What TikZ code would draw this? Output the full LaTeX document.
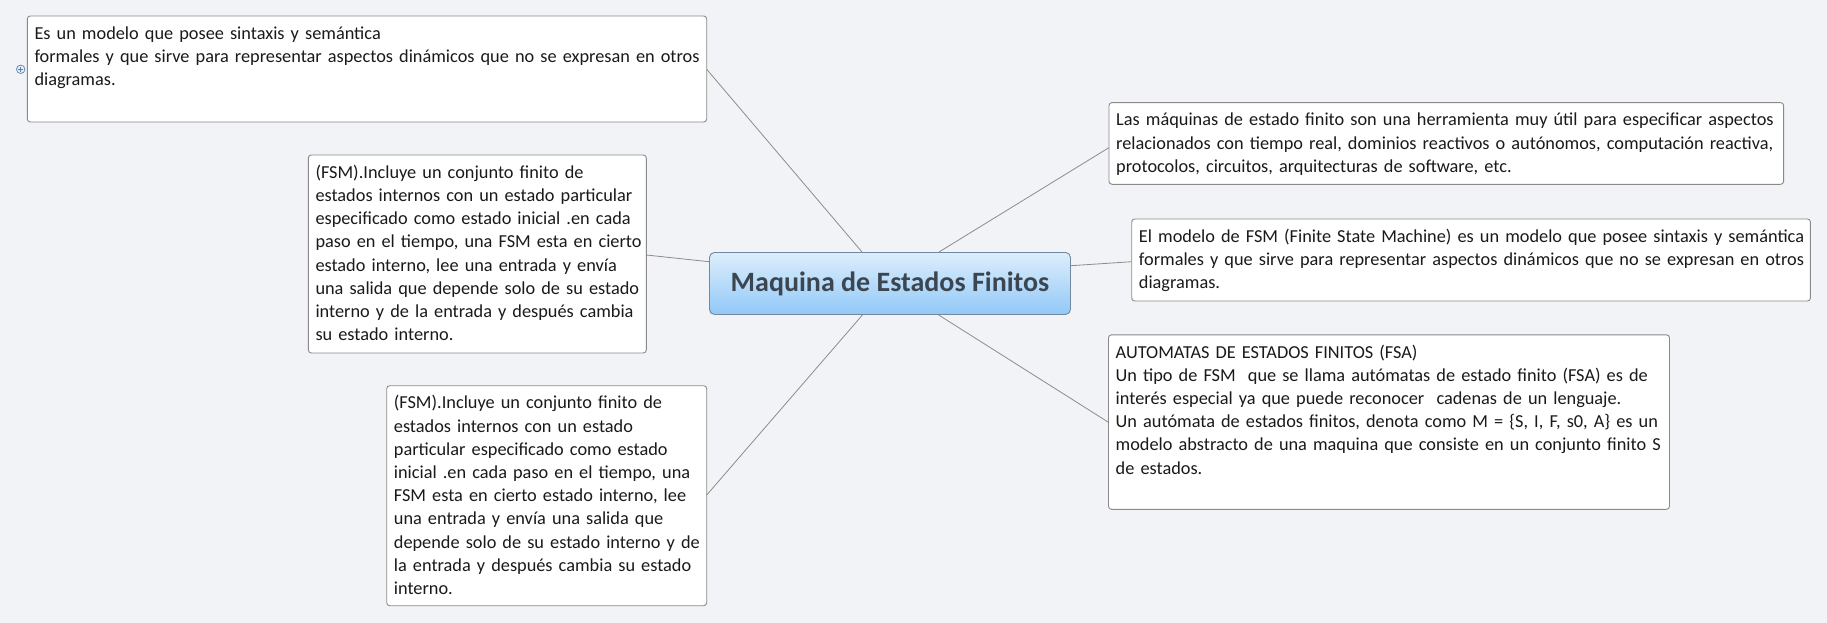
\documentclass[tikz,border=0pt]{standalone}
\usepackage{fontspec}
\setmainfont{Carlito}
\definecolor{bg}{HTML}{F2F3F7}
\definecolor{boxborder}{HTML}{8A8A8A}
\definecolor{linkc}{HTML}{8C8C8C}
\definecolor{txtc}{HTML}{1A1A1A}
\definecolor{titlec}{HTML}{3C4651}
\definecolor{ctop}{HTML}{DDEEFC}
\definecolor{cbot}{HTML}{92C8F8}
\definecolor{cborder}{HTML}{7088A0}
\definecolor{iconc}{HTML}{5F81A6}
\definecolor{iconfill}{HTML}{E4EEF8}
\begin{document}
\begin{tikzpicture}[x=1pt,y=-1pt,
  topicbox/.style={draw=boxborder,line width=0.9pt,fill=white,rounded corners=3pt,
    inner sep=0pt,outer sep=0pt,anchor=north west},
  topictext/.style={anchor=north west,inner sep=0pt,align=left,text=txtc,
    font=\fontsize{18.3}{23.2}\selectfont},
  link/.style={draw=linkc,line width=0.8pt}]
\useasboundingbox[fill=bg] (0,0) rectangle (1827,623);
\newcommand{\fl}{\rule{0pt}{17.5pt}}
% central topic
\node[draw=cborder,line width=0.9pt,rounded corners=5pt,top color=ctop,bottom color=cbot,
  minimum width=361pt,minimum height=62pt,inner sep=0pt,anchor=north west,
  text=titlec,font=\fontsize{28}{32}\selectfont\bfseries] (c) at (709,252) {Maquina de Estados Finitos};
% boxes
\node[topicbox,minimum width=679.4pt,minimum height=106pt] (b1) at (27.3,16) {};
\node[topicbox,minimum width=338pt,minimum height=198pt] (b2) at (308.3,155) {};
\node[topicbox,minimum width=320pt,minimum height=220pt] (b3) at (386.7,385.7) {};
\node[topicbox,minimum width=674.6pt,minimum height=81.7pt] (b5) at (1109,102.6) {};
\node[topicbox,minimum width=678.7pt,minimum height=82pt] (b6) at (1131.7,219) {};
\node[topicbox,minimum width=561pt,minimum height=174.5pt] (b7) at (1108.5,334.8) {};
% texts
\node[topictext,text width=700pt] (t1) at ([xshift=7pt,yshift=-5.5pt]b1.north west) {\fl Es un modelo que posee sintaxis y semántica\\
formales y que sirve para representar aspectos dinámicos que no se expresan en otros\\
diagramas.};
\node[topictext,text width=400pt] (t2) at ([xshift=7pt,yshift=-5.5pt]b2.north west) {\fl(FSM).Incluye un conjunto finito de\\
estados internos con un estado particular\\
especificado como estado inicial .en cada\\
paso en el tiempo, una FSM esta en cierto\\
estado interno, lee una entrada y envía\\
una salida que depende solo de su estado\\
interno y de la entrada y después cambia\\
su estado interno.};
\node[topictext,text width=400pt] (t3) at ([xshift=7pt,yshift=-5.5pt]b3.north west) {\fl(FSM).Incluye un conjunto finito de\\
estados internos con un estado\\
particular especificado como estado\\
inicial .en cada paso en el tiempo, una\\
FSM esta en cierto estado interno, lee\\
una entrada y envía una salida que\\
depende solo de su estado interno y de\\
la entrada y después cambia su estado\\
interno.};
\node[topictext,text width=700pt] (t5) at ([xshift=7pt,yshift=-5.5pt]b5.north west) {\fl Las máquinas de estado finito son una herramienta muy útil para especificar aspectos\\
relacionados con tiempo real, dominios reactivos o autónomos, computación reactiva,\\
protocolos, circuitos, arquitecturas de software, etc.};
\node[topictext,text width=700pt] (t6) at ([xshift=7pt,yshift=-5.5pt]b6.north west) {\fl El modelo de FSM (Finite State Machine) es un modelo que posee sintaxis y semántica\\
formales y que sirve para representar aspectos dinámicos que no se expresan en otros\\
diagramas.};
\node[topictext,text width=700pt] (t7) at ([xshift=7pt,yshift=-5.5pt]b7.north west) {\fl AUTOMATAS DE ESTADOS FINITOS (FSA)\\
Un tipo de FSM\ \ que se llama autómatas de estado finito (FSA) es de\\
interés especial ya que puede reconocer\ \ cadenas de un lenguaje.\\
Un autómata de estados finitos, denota como M = \{S, I, F, s0, A\} es un\\
modelo abstracto de una maquina que consiste en un conjunto finito S\\
de estados.};
% collapse icon
\node[circle,draw=iconc,fill=iconfill,line width=0.7pt,minimum size=8.5pt,inner sep=0pt] (icon) at (20.7,69.3) {};
\draw[iconc,line width=0.7pt] ([xshift=-2.3pt]icon.center) -- ([xshift=2.3pt]icon.center)
  ([yshift=-2.3pt]icon.center) -- ([yshift=2.3pt]icon.center);
% connectors
\draw[link] ([xshift=153pt]c.north west) -- ([yshift=-53.3pt]b1.north east);
\draw[link] ([yshift=-9.7pt]c.north west) -- ([yshift=-100pt]b2.north east);
\draw[link] ([xshift=153.5pt]c.south west) -- ([yshift=-109.3pt]b3.north east);
\draw[link] ([xshift=230pt]c.north west) -- ([yshift=-45pt]b5.north west);
\draw[link] ([yshift=-13.7pt]c.north east) -- ([yshift=-42.7pt]b6.north west);
\draw[link] ([xshift=229.5pt]c.south west) -- ([yshift=-87.5pt]b7.north west);
\end{tikzpicture}
\end{document}
